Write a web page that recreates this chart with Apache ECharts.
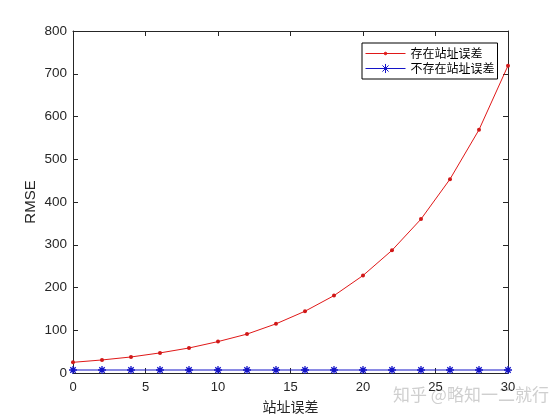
<!DOCTYPE html>
<html>
<head>
<meta charset="utf-8">
<script src="https://cdn.jsdelivr.net/npm/echarts@6/dist/echarts.min.js"></script>
<style>html,body{margin:0;padding:0;background:#fff}#c{width:560px;height:420px}</style>
</head>
<body>
<div id="c"></div>
<script>
var xValues = [0, 2, 4, 6, 8, 10, 12, 14, 16, 18, 20, 22, 24, 26, 28, 30];
var withError = [25, 30.5, 37.5, 47, 58.5, 73.5, 91, 115, 144.5, 181, 228, 287, 360, 453.5, 569, 719];
var withoutError = [7, 7, 7, 7, 7, 7, 7, 7, 7, 7, 7, 7, 7, 7, 7, 7];
var seriesNames = ['存在站址误差', '不存在站址误差'];
var xName = '站址误差';
var yName = 'RMSE';
var watermark = '知乎 @略知一二就行';

function pairs(xs, ys) { return xs.map(function (x, i) { return [x, ys[i]]; }); }

var axisCol = '#262626';
var redCol = '#e01818';
var blueCol = '#1414c8';
var starPath = 'path://M5,0L5,10M0,5L10,5M1.6,1.6L8.4,8.4M1.6,8.4L8.4,1.6';
var legendDot = 'path://M0,5L44,5M20.6,5A1.4,1.4,0,1,0,23.4,5A1.4,1.4,0,1,0,20.6,5Z';
var legendStar = 'path://M0,5L44,5M22,0L22,10M17,5L27,5M18.6,1.6L25.4,8.4M18.6,8.4L25.4,1.6';

var chart = echarts.init(document.getElementById('c'));
chart.setOption({
  animation: false,
  backgroundColor: '#fff',
  grid: { left: 73, right: 52, top: 31, bottom: 47 },
  legend: {
    orient: 'vertical', left: 362, top: 43,
    backgroundColor: '#fff', borderColor: '#000', borderWidth: 1, borderRadius: 0,
    padding: [4, 3, 4, 3], itemGap: 2, itemWidth: 40, itemHeight: 10,
    textStyle: { fontSize: 12, color: '#000', fontFamily: 'Noto Sans CJK SC', lineHeight: 13 },
    data: [
      { name: seriesNames[0], icon: legendDot, itemStyle: { color: redCol, borderColor: redCol, borderWidth: 1 } },
      { name: seriesNames[1], icon: legendStar, itemStyle: { color: blueCol, borderColor: blueCol, borderWidth: 1 } }
    ]
  },
  xAxis: [{
    type: 'value', min: 0, max: 30, interval: 5,
    name: xName, nameLocation: 'middle', nameGap: 27, nameMoveOverlap: false,
    nameTextStyle: { fontSize: 14, color: axisCol, fontFamily: 'Noto Sans CJK SC' },
    axisLine: { onZero: false, lineStyle: { color: axisCol, width: 1 } },
    axisTick: { inside: true, length: 5, lineStyle: { color: axisCol } },
    axisLabel: { fontSize: 13, color: axisCol, margin: 8, fontFamily: 'Liberation Sans' },
    splitLine: { show: false }
  }, {
    type: 'value', min: 0, max: 30, interval: 5, position: 'top',
    axisLine: { onZero: false, lineStyle: { color: axisCol, width: 1 } },
    axisTick: { inside: true, length: 5, lineStyle: { color: axisCol } },
    axisLabel: { show: false }, splitLine: { show: false }
  }],
  yAxis: [{
    type: 'value', min: 0, max: 800, interval: 100,
    name: yName, nameLocation: 'middle', nameGap: 35, nameRotate: 90, nameMoveOverlap: false,
    nameTextStyle: { fontSize: 15, color: axisCol, fontFamily: 'Liberation Sans' },
    axisLine: { show: true, onZero: false, lineStyle: { color: axisCol, width: 1 } },
    axisTick: { show: true, inside: true, length: 5, lineStyle: { color: axisCol } },
    axisLabel: { fontSize: 13.5, color: axisCol, margin: 6, fontFamily: 'Liberation Sans' },
    splitLine: { show: false }
  }, {
    type: 'value', min: 0, max: 800, interval: 100, position: 'right',
    axisLine: { show: true, onZero: false, lineStyle: { color: axisCol, width: 1 } },
    axisTick: { show: true, inside: true, length: 5, lineStyle: { color: axisCol } },
    axisLabel: { show: false }, splitLine: { show: false }
  }],
  series: [{
    name: seriesNames[0], type: 'line', data: pairs(xValues, withError),
    symbol: 'circle', symbolSize: 4,
    lineStyle: { color: redCol, width: 1 },
    itemStyle: { color: '#d01818' }
  }, {
    name: seriesNames[1], type: 'line', data: pairs(xValues, withoutError),
    symbol: starPath, symbolSize: 8,
    lineStyle: { color: blueCol, width: 1 },
    itemStyle: { color: blueCol, borderColor: blueCol, borderWidth: 1.3 }
  }],
  graphic: [{
    type: 'text', left: 393, top: 386, silent: true,
    style: { text: watermark, fontSize: 17, fill: '#cfcfcf', fontFamily: 'Noto Sans CJK SC' }
  }]
});
</script>
</body>
</html>
